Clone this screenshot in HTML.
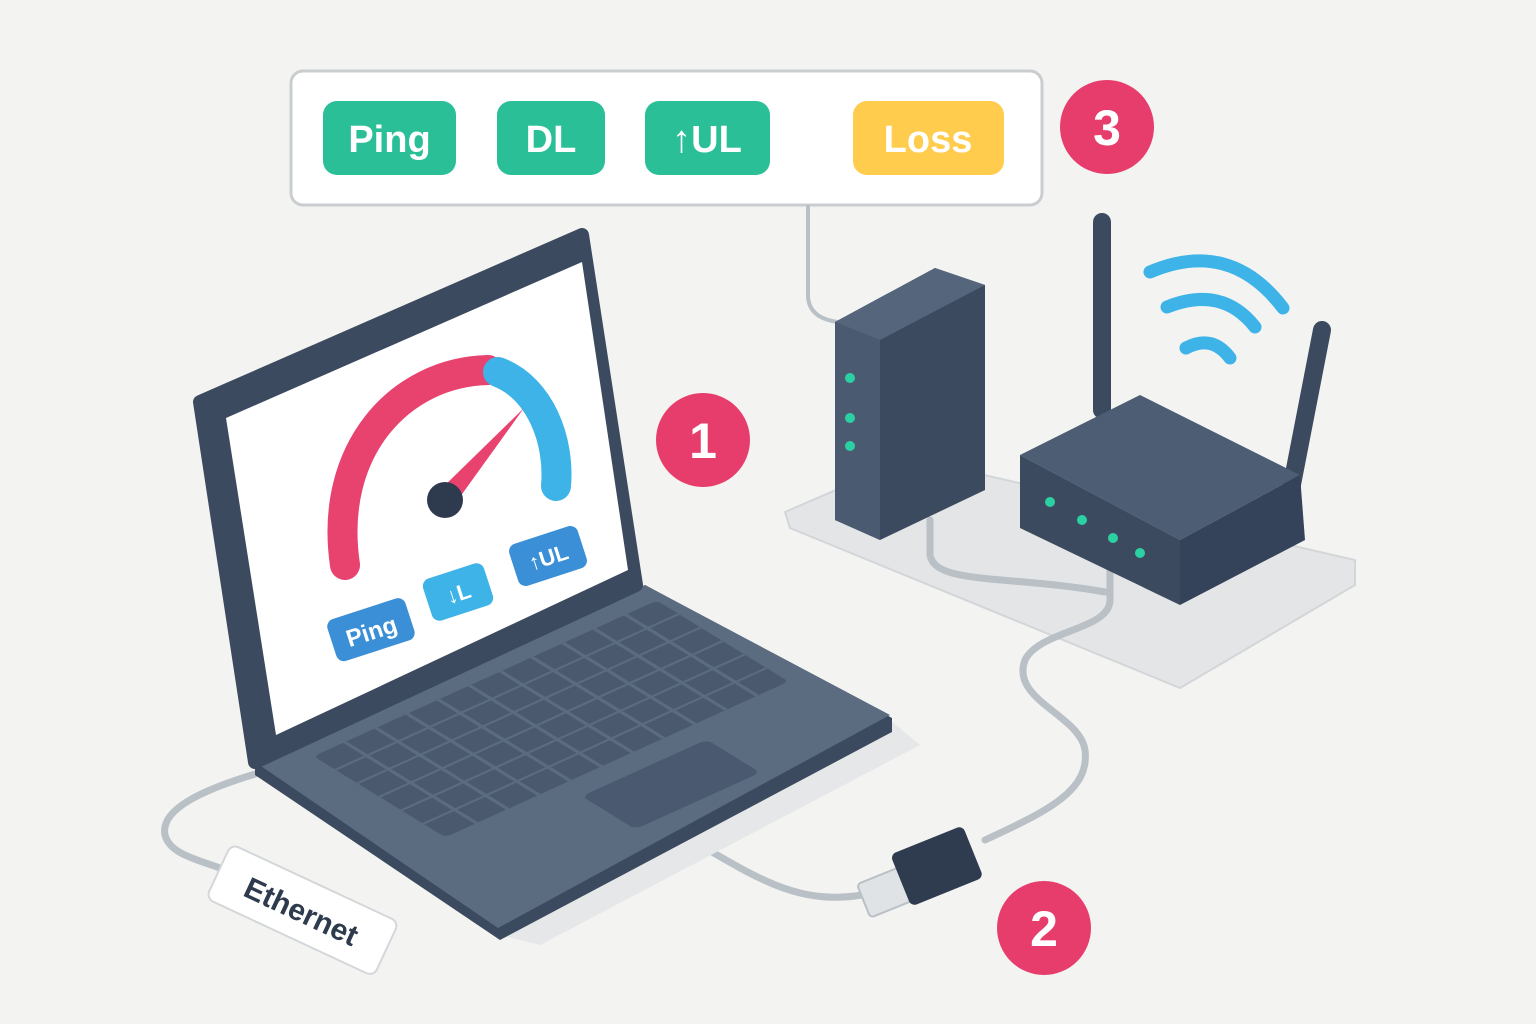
<!DOCTYPE html>
<html><head><meta charset="utf-8"><style>
html,body{margin:0;padding:0;background:#f3f3f2}
svg{display:block}
text{font-family:"Liberation Sans",sans-serif;font-weight:bold}
</style></head><body>
<svg width="1536" height="1024" viewBox="0 0 1536 1024" xmlns="http://www.w3.org/2000/svg">
<rect width="1536" height="1024" fill="#f3f3f2"/>
<!-- top box -->
<rect x="291" y="71" width="751" height="134" rx="12" fill="#fff" stroke="#c9cdd0" stroke-width="3"/>
<rect x="323" y="101" width="133" height="74" rx="14" fill="#2bbf98"/>
<text x="389.5" y="152" font-size="38" fill="#fff" text-anchor="middle">Ping</text>
<rect x="497" y="101" width="108" height="74" rx="14" fill="#2bbf98"/>
<text x="551" y="152" font-size="38" fill="#fff" text-anchor="middle">DL</text>
<rect x="645" y="101" width="125" height="74" rx="14" fill="#2bbf98"/>
<text x="707" y="152" font-size="38" fill="#fff" text-anchor="middle">↑UL</text>
<rect x="853" y="101" width="151" height="74" rx="14" fill="#ffcc4d"/>
<text x="928" y="152" font-size="38" fill="#fff" text-anchor="middle">Loss</text>
<!-- badges -->
<circle cx="1107" cy="127" r="47" fill="#e73d6c"/><text x="1107" y="145" font-size="50" fill="#fff" text-anchor="middle">3</text>
<circle cx="703" cy="440" r="47" fill="#e73d6c"/><text x="703" y="458" font-size="50" fill="#fff" text-anchor="middle">1</text>
<circle cx="1044" cy="928" r="47" fill="#e73d6c"/><text x="1044" y="946" font-size="50" fill="#fff" text-anchor="middle">2</text>
<!-- connector -->
<path d="M808,205 L808,295 Q808,318 838,322" fill="none" stroke="#b9c0c6" stroke-width="4"/>
<!-- platform -->
<polygon points="785,512 910,458 1355,560 1355,585 1180,688 790,528" fill="#e4e5e6" stroke="#d3d6d8" stroke-width="2"/>
<!-- cables -->
<g fill="none" stroke="#b9c0c6" stroke-width="7" stroke-linecap="round">
<path d="M930,520 L930,555 C935,585 1010,575 1105,592"/>
<path d="M1110,570 L1110,600 C1110,630 1040,630 1025,660 C1010,700 1080,715 1085,750 C1090,790 1050,810 985,840"/>
<path d="M700,845 C760,880 800,905 862,895"/>
<path d="M262,772 C200,790 160,810 165,835 C170,855 200,860 225,870"/>
</g>
<!-- modem -->
<polygon points="835,322 935,268 985,285 985,490 880,540 835,520" fill="#3b4a5e"/>
<polygon points="835,322 880,340 880,540 835,520" fill="#4a5a70"/>
<polygon points="835,322 935,268 985,285 880,340" fill="#55667c"/>
<circle cx="850" cy="378" r="5" fill="#2bd1a3"/><circle cx="850" cy="418" r="5" fill="#2bd1a3"/><circle cx="850" cy="446" r="5" fill="#2bd1a3"/>
<!-- router antennas -->
<line x1="1102" y1="222" x2="1102" y2="410" stroke="#3b4a5e" stroke-width="18" stroke-linecap="round"/>
<line x1="1322" y1="330" x2="1288" y2="505" stroke="#3b4a5e" stroke-width="18" stroke-linecap="round"/>
<!-- router body -->
<polygon points="1020,455 1140,395 1300,475 1180,540" fill="#4d5d73"/>
<polygon points="1020,455 1180,540 1180,605 1020,528" fill="#3b4a5e"/>
<polygon points="1180,540 1300,475 1305,540 1180,605" fill="#34425a"/>
<circle cx="1050" cy="502" r="5" fill="#2bd1a3"/><circle cx="1082" cy="520" r="5" fill="#2bd1a3"/><circle cx="1113" cy="538" r="5" fill="#2bd1a3"/><circle cx="1140" cy="553" r="5" fill="#2bd1a3"/>
<!-- wifi -->
<g fill="none" stroke="#3eb3e8" stroke-width="13" stroke-linecap="round">
<path d="M1150,272 Q1230,238 1283,308"/>
<path d="M1167,307 Q1222,285 1255,327"/>
<path d="M1186,348 Q1212,334 1230,358"/>
</g>
<!-- laptop shadow -->
<polygon points="500,935 890,720 920,745 540,945" fill="#e6e7e8"/>
<!-- laptop base -->
<polygon points="255,762 645,585 892,718 892,732 500,940 255,775" fill="#3b4a5e"/>
<polygon points="255,762 645,585 890,715 498,928" fill="#5b6b80"/>
<g transform="matrix(3.9,-1.77,2.44,1.5,255,762)">
<rect x="10" y="8" width="88" height="54" rx="1.5" fill="#4a596e"/>
<g stroke="#5b6b80" stroke-width="0.9">
<line x1="10" y1="17" x2="98" y2="17"/><line x1="10" y1="26" x2="98" y2="26"/><line x1="10" y1="35" x2="98" y2="35"/><line x1="10" y1="44" x2="98" y2="44"/><line x1="10" y1="53" x2="98" y2="53"/>
<line x1="18" y1="8" x2="18" y2="62"/><line x1="26" y1="8" x2="26" y2="62"/><line x1="34" y1="8" x2="34" y2="62"/><line x1="42" y1="8" x2="42" y2="62"/><line x1="50" y1="8" x2="50" y2="62"/><line x1="58" y1="8" x2="58" y2="62"/><line x1="66" y1="8" x2="66" y2="62"/><line x1="74" y1="8" x2="74" y2="62"/><line x1="82" y1="8" x2="82" y2="62"/><line x1="90" y1="8" x2="90" y2="62"/>
</g>
<rect x="40" y="70" width="32" height="22" rx="2" fill="#4a596f"/>
</g>
<!-- laptop screen -->
<polygon points="200,402 582,235 636,585 255,762" fill="#3b4a5e" stroke="#3b4a5e" stroke-width="14" stroke-linejoin="round"/>
<polygon points="226,418 582,262 628,570 276,735" fill="#fff"/>
<!-- gauge -->
<path d="M345,565 C328,450 400,372 488,370" fill="none" stroke="#e8426f" stroke-width="30" stroke-linecap="round"/>
<path d="M498,372 C540,388 560,440 556,486" fill="none" stroke="#3db3e8" stroke-width="30" stroke-linecap="round"/>
<polygon points="438,492 452,508 524,408" fill="#e8426f"/>
<circle cx="445" cy="500" r="18" fill="#2e3a4d"/>
<g transform="rotate(-18 370 630)"><rect x="330" y="608" width="82" height="44" rx="8" fill="#3a8fd6"/><text x="371" y="640" font-size="24" fill="#fff" text-anchor="middle" font-weight="normal">Ping</text></g>
<g transform="rotate(-18 458 592)"><rect x="426" y="570" width="64" height="44" rx="8" fill="#3eb3e8"/><text x="458" y="601" font-size="22" fill="#fff" text-anchor="middle">↓L</text></g>
<g transform="rotate(-18 548 556)"><rect x="512" y="534" width="72" height="44" rx="8" fill="#3a8fd6"/><text x="548" y="565" font-size="22" fill="#fff" text-anchor="middle">↑UL</text></g>
<!-- plug -->
<g transform="rotate(-22 920 875)">
<rect x="858" y="860" width="52" height="36" rx="4" fill="#dfe3e6" stroke="#b9c0c6" stroke-width="2"/>
<rect x="900" y="845" width="78" height="56" rx="6" fill="#2f3b4e"/>
</g>
<!-- ethernet label -->
<g transform="rotate(25 302 910)">
<rect x="210" y="880" width="185" height="60" rx="8" fill="#fff" stroke="#d4d7da" stroke-width="2"/>
<text x="302" y="922" font-size="30" fill="#2e3a4d" text-anchor="middle" font-weight="normal">Ethernet</text>
</g>
</svg>
</body></html>
